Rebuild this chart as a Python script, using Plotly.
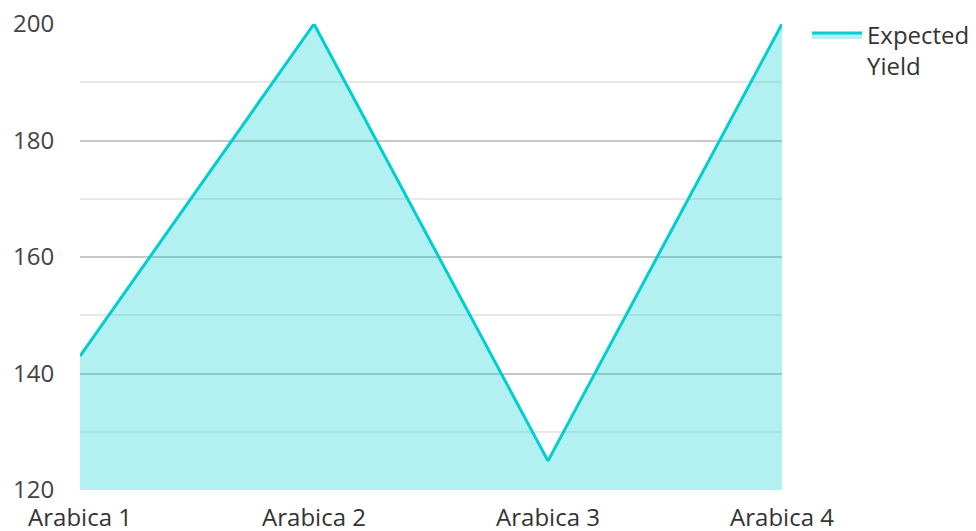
import plotly.graph_objects as go

categories = ["Arabica 1", "Arabica 2", "Arabica 3", "Arabica 4"]
expected_yield = [143, 200, 125, 200]
series_name = "Expected<br>Yield"
y_ticks = [120, 140, 160, 180, 200]

fig = go.Figure()
fig.add_trace(go.Scatter(
    x=categories,
    y=expected_yield,
    name=series_name,
    mode="lines",
    fill="tozeroy",
    fillcolor="rgba(0,206,209,0.3)",
    line=dict(color="#00CED1", width=3),
))

fig.update_layout(
    width=968,
    height=523,
    margin=dict(l=72, r=194, t=16, b=41, autoexpand=False),
    plot_bgcolor="white",
    paper_bgcolor="white",
    font=dict(family="Open Sans", size=24, color="#444444"),
    showlegend=True,
    legend=dict(
        x=1.0356, y=1.024, xanchor="left", yanchor="top",
        xref="paper", yref="paper",
        font=dict(size=24, color="#333333"),
        itemwidth=50,
        valign="top",
        bgcolor="rgba(0,0,0,0)",
    ),
    xaxis=dict(
        type="category",
        range=[0, 3],
        showgrid=False,
        zeroline=False,
        showline=False,
        automargin=False,
        ticklabeloverflow="allow",
        ticks="outside",
        ticklen=6,
        tickcolor="rgba(0,0,0,0)",
        tickfont=dict(size=24, color="#333333"),
    ),
    yaxis=dict(
        range=[120, 200],
        tickvals=y_ticks,
        showgrid=True,
        gridcolor="#c8c8c8",
        gridwidth=1.5,
        zeroline=False,
        showline=False,
        automargin=False,
        ticklabeloverflow="allow",
        ticks="outside",
        ticklen=20,
        tickcolor="rgba(0,0,0,0)",
        tickfont=dict(size=24, color="#444444"),
        minor=dict(dtick=10, showgrid=True, gridcolor="#e8e8e8", gridwidth=1.5),
    ),
)

fig.write_html("out.html")
